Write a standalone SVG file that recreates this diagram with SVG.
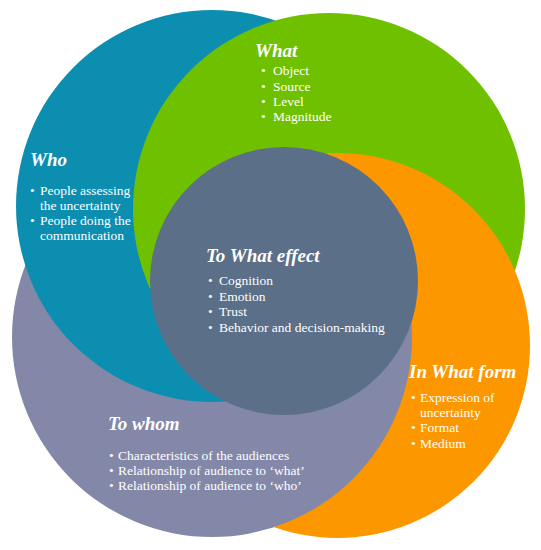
<svg xmlns="http://www.w3.org/2000/svg" width="541" height="550" viewBox="0 0 541 550">
<style>
.t{font-family:"Liberation Serif","Times New Roman",serif;font-size:19px;font-weight:bold;font-style:italic;fill:#fff}
.b{font-family:"Liberation Serif","Times New Roman",serif;font-size:13.5px;fill:#fff}
</style>
<defs>
<clipPath id="cOrange"><circle cx="337.5" cy="345.5" r="193.5"/></clipPath>
<clipPath id="cOrange2"><circle cx="337.5" cy="345.5" r="195.5"/></clipPath>
<clipPath id="cPurple"><circle cx="212" cy="337" r="200"/></clipPath>
</defs>
<rect width="541" height="550" fill="#fff"/>
<g id="shapes">
<circle id="toWhomCircle" cx="212" cy="337" r="200" fill="#8488a8"/>
<circle id="whoCircle" cx="212" cy="206" r="196" fill="#0b8eb0"/>
<circle id="whatCircle" cx="329" cy="209" r="196" fill="#6fc100"/>
<circle id="formCircle" cx="337.5" cy="345.5" r="192.5" fill="#fd9700"/>
<g clip-path="url(#cOrange)">
<circle cx="212" cy="337" r="200" fill="#8488a8"/>
</g>
<g clip-path="url(#cOrange2)">
<g clip-path="url(#cPurple)"><circle cx="212" cy="206" r="196" fill="#0b8eb0"/></g>
</g>
<circle id="effectCircle" cx="284" cy="281" r="134" fill="#5b6f88"/>
</g>
<g id="what">
<text class="t" x="255" y="57">What</text>
<text class="b" x="261" y="75">•<tspan x="273">Object</tspan></text>
<text class="b" x="261" y="91">•<tspan x="273">Source</tspan></text>
<text class="b" x="261" y="106">•<tspan x="273">Level</tspan></text>
<text class="b" x="261" y="121">•<tspan x="273">Magnitude</tspan></text>
</g>
<g id="who">
<text class="t" x="30" y="166">Who</text>
<text class="b" x="30" y="195">•<tspan x="40">People assessing</tspan></text>
<text class="b" x="40" y="210">the uncertainty</text>
<text class="b" x="30" y="225">•<tspan x="40">People doing the</tspan></text>
<text class="b" x="40" y="240">communication</text>
</g>
<g id="effect">
<text class="t" x="206" y="262">To What effect</text>
<text class="b" x="208" y="285">•<tspan x="219">Cognition</tspan></text>
<text class="b" x="208" y="301">•<tspan x="219">Emotion</tspan></text>
<text class="b" x="208" y="316">•<tspan x="219">Trust</tspan></text>
<text class="b" x="208" y="332">•<tspan x="219">Behavior and decision-making</tspan></text>
</g>
<g id="toWhom">
<text class="t" x="108" y="430">To whom</text>
<text class="b" x="109" y="460">•<tspan x="118">Characteristics of the audiences</tspan></text>
<text class="b" x="109" y="475">•<tspan x="118">Relationship of audience to ‘what’</tspan></text>
<text class="b" x="109" y="490">•<tspan x="118">Relationship of audience to ‘who’</tspan></text>
</g>
<g id="form">
<text class="t" x="409" y="378">In What form</text>
<text class="b" x="411" y="402">•<tspan x="420">Expression of</tspan></text>
<text class="b" x="420" y="417">uncertainty</text>
<text class="b" x="411" y="432">•<tspan x="420">Format</tspan></text>
<text class="b" x="411" y="448">•<tspan x="420">Medium</tspan></text>
</g>
<g id="connectors"></g>
</svg>
